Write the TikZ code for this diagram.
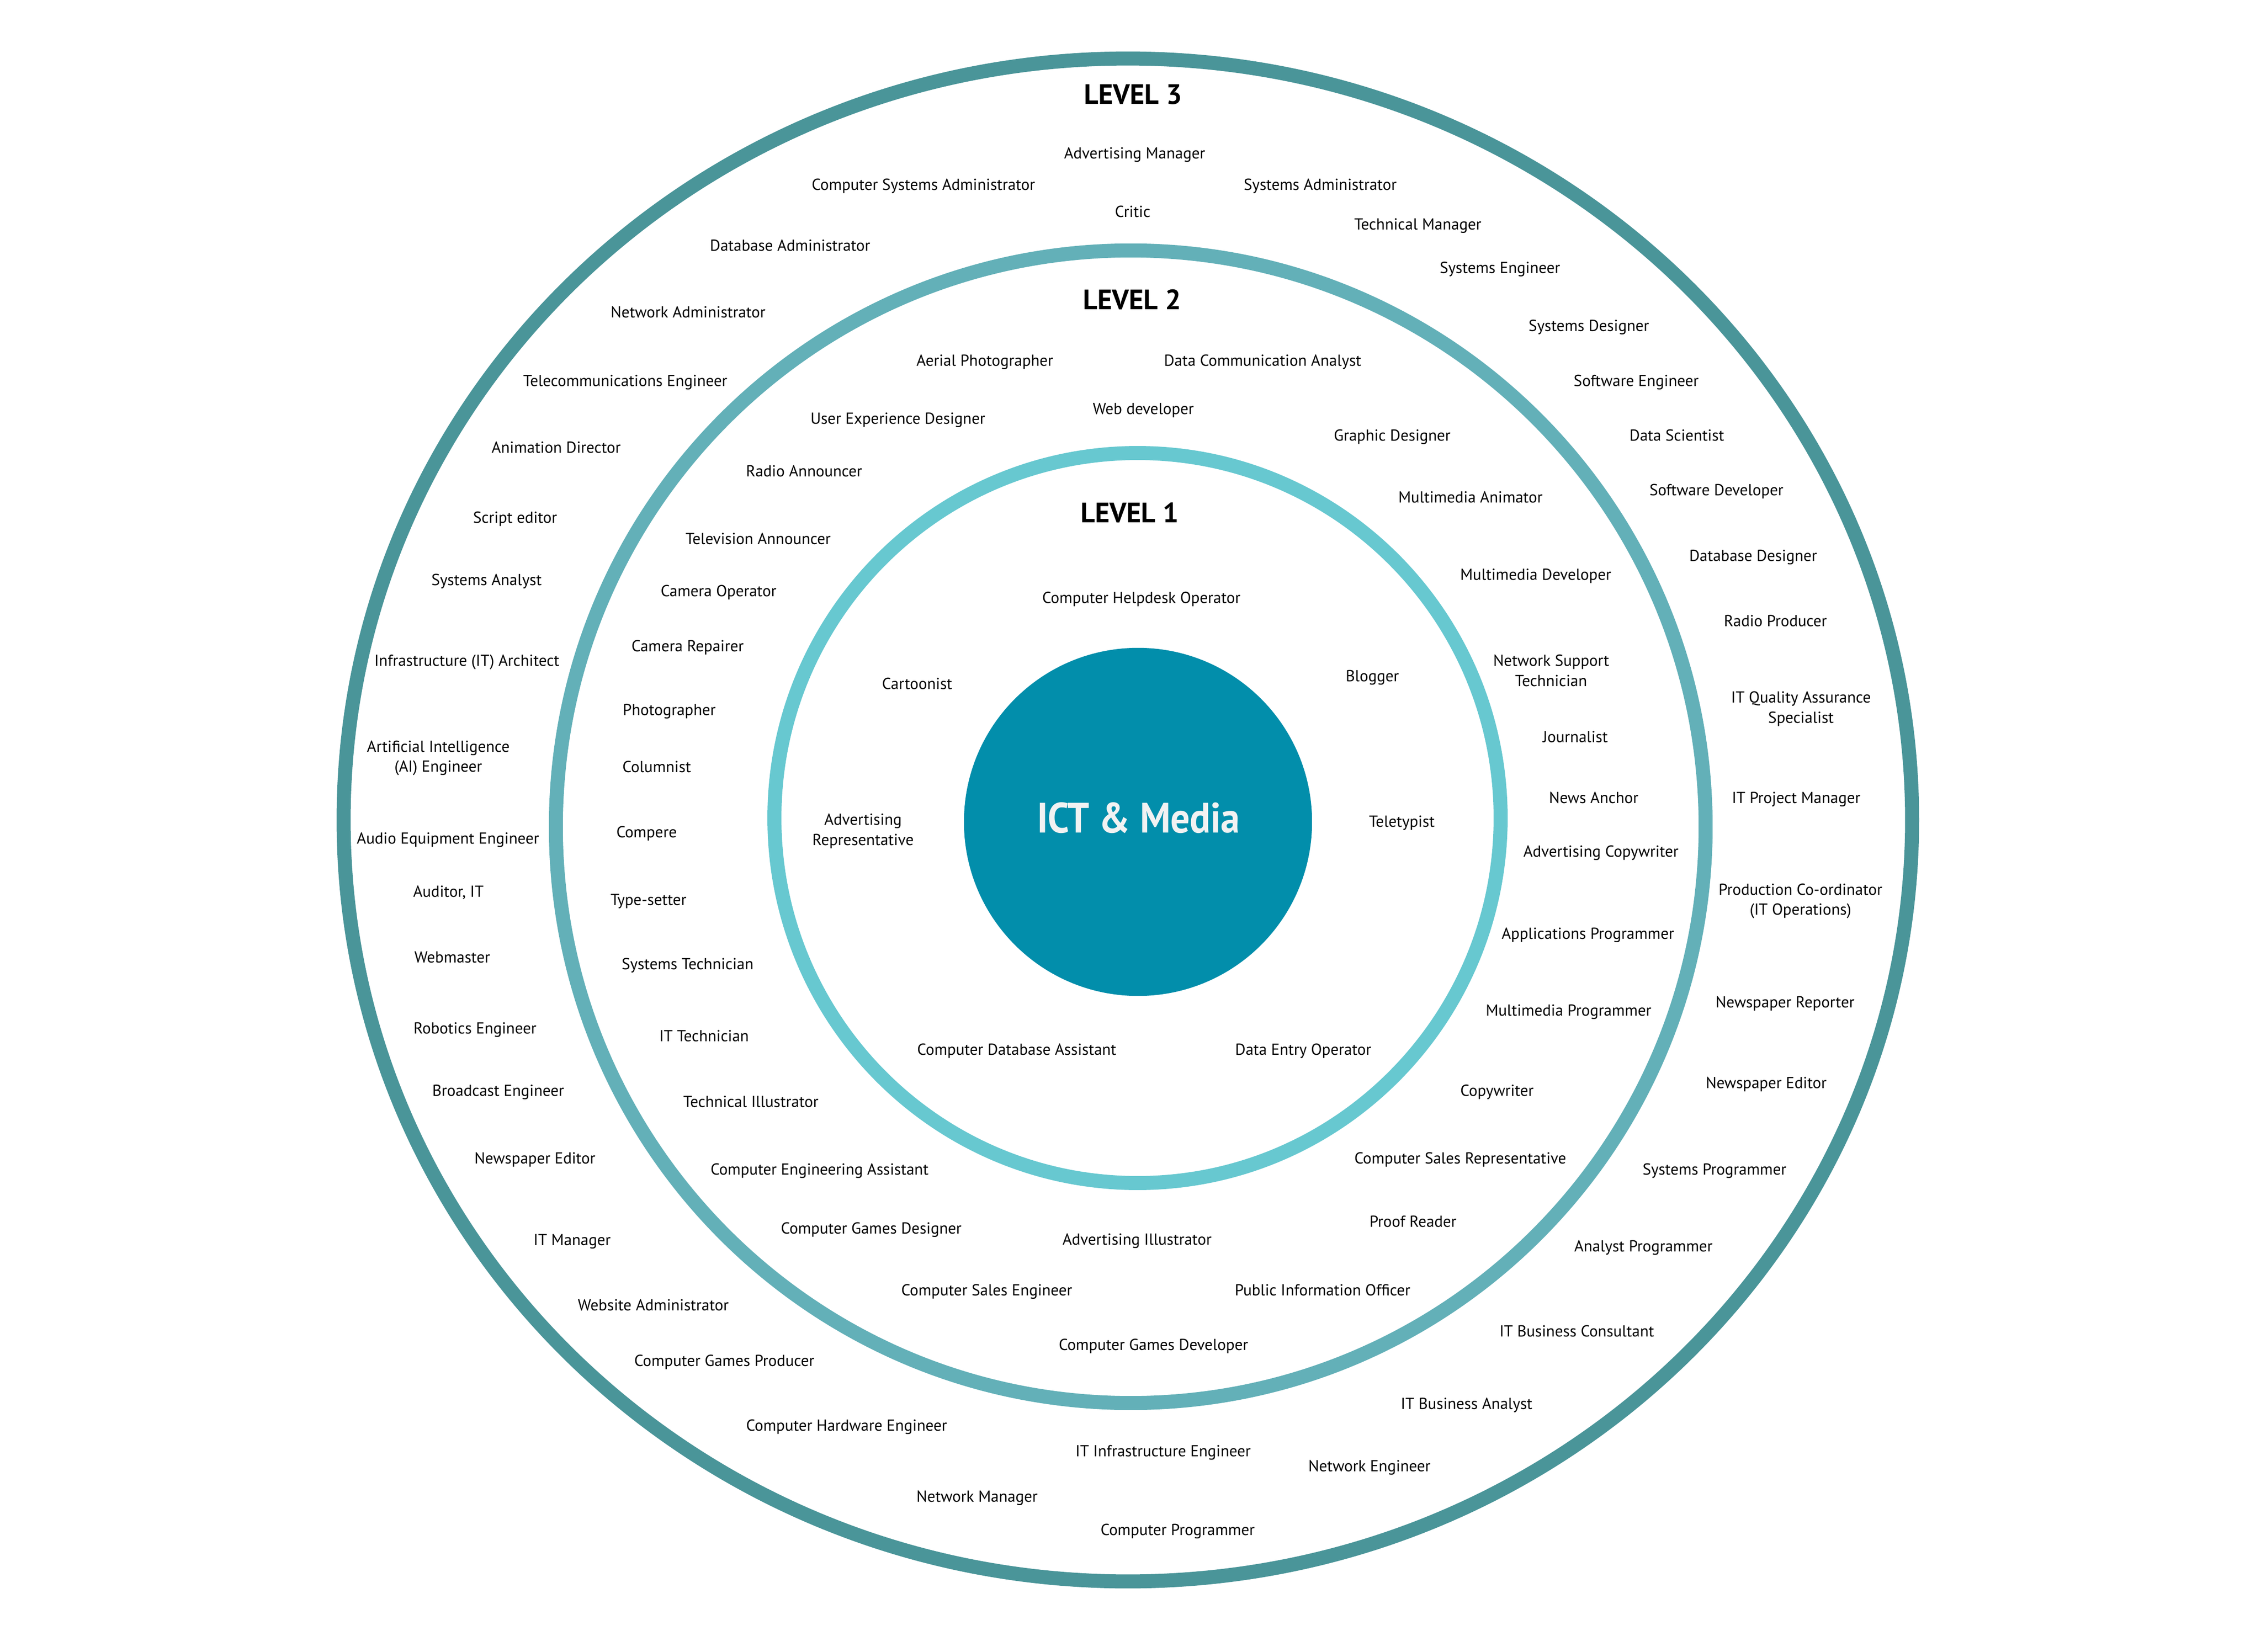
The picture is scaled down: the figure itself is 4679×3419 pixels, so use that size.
\documentclass[tikz,border=0pt]{standalone}
\usepackage{fontspec}
\setmainfont{PT Sans}
\definecolor{ringthree}{RGB}{74,149,153}
\definecolor{ringtwo}{RGB}{99,176,184}
\definecolor{ringone}{RGB}{103,200,208}
\definecolor{core}{RGB}{2,142,171}
\definecolor{coretext}{RGB}{242,242,242}
\tikzset{
  ring/.style={line width=0.29cm},
  lab/.style={inner sep=0pt, text height=6.6pt, text depth=0pt, font=\fontsize{9.4}{11.8}\selectfont, text=black},
  labtwo/.style={inner sep=0pt, align=center, font=\fontsize{9.4}{11.8}\selectfont, text=black},
  leveltitle/.style={inner sep=0pt, text height=11.4pt, text depth=0pt, font=\fontsize{16.5}{20}\selectfont\bfseries},
}
\begin{document}
\begin{tikzpicture}[x=0.01cm,y=-0.01cm]
\useasboundingbox (0,0) rectangle (4679,3419);
\fill[white] (0,0) rectangle (4679,3419);
% rings
\draw[ring, ringthree] (2334,1697) ellipse [x radius=16.22cm, y radius=15.75cm];
\draw[ring, ringtwo] (2340,1711) ellipse [x radius=11.89cm, y radius=11.92cm];
\draw[ring, ringone] (2354,1693) ellipse [x radius=7.51cm, y radius=7.55cm];
\node[circle, fill=core, minimum size=7.2cm, inner sep=0pt] (core) at (2355,1701) {};
\node[inner sep=0pt, text height=17.6pt, text depth=0pt, xscale=0.9, font=\fontsize{25}{30}\selectfont\bfseries, text=coretext] (ict) at (2356,1693) {ICT \& Media};
% titles
\node[leveltitle] (l3) at (2345,195) {LEVEL 3};
\node[leveltitle] (l2) at (2343,620) {LEVEL 2};
\node[leveltitle] (l1) at (2338,1061) {LEVEL 1};
% level 3
\node[lab] (a01) at (2348,317) {Advertising Manager};
\node[lab] (a02) at (1911,382) {Computer Systems Administrator};
\node[lab] (a03) at (2732,382) {Systems Administrator};
\node[lab] (a04) at (2344,438) {Critic};
\node[lab] (a05) at (2934,464) {Technical Manager};
\node[lab] (a06) at (1635,508) {Database Administrator};
\node[lab] (a07) at (3104,554) {Systems Engineer};
\node[lab] (a08) at (1424,646) {Network Administrator};
\node[lab] (a09) at (3288,674) {Systems Designer};
\node[lab] (a10) at (1294,788) {Telecommunications Engineer};
\node[lab] (a11) at (3386,788) {Software Engineer};
\node[lab] (a12) at (1151,926) {Animation Director};
\node[lab] (a13) at (3470,901) {Data Scientist};
\node[lab] (a14) at (1066,1071) {Script editor};
\node[lab] (a15) at (3552,1014) {Software Developer};
\node[lab] (a16) at (1007,1200) {Systems Analyst};
\node[lab] (a17) at (3628,1150) {Database Designer};
\node[lab] (a18) at (966,1367) {Infrastructure (IT) Architect};
\node[lab] (a19) at (3674,1285) {Radio Producer};
\node[labtwo] (a20) at (907,1569) {Artificial Intelligence\\(AI) Engineer};
\node[labtwo] (a21) at (3727,1467) {IT Quality Assurance\\Specialist};
\node[lab] (a22) at (927,1735) {Audio Equipment Engineer};
\node[lab] (a23) at (3717,1651) {IT Project Manager};
\node[lab] (a24) at (928,1845) {Auditor, IT};
\node[labtwo] (a25) at (3726,1865) {Production Co-ordinator\\(IT Operations)};
\node[lab] (a26) at (936,1981) {Webmaster};
\node[lab] (a27) at (3694,2074) {Newspaper Reporter};
\node[lab] (a28) at (983,2128) {Robotics Engineer};
\node[lab] (a29) at (3655,2241) {Newspaper Editor};
\node[lab] (a30) at (1031,2257) {Broadcast Engineer};
\node[lab] (a31) at (3548,2420) {Systems Programmer};
\node[lab] (a32) at (1107,2397) {Newspaper Editor};
\node[lab] (a33) at (3401,2579) {Analyst Programmer};
\node[lab] (a34) at (1184,2566) {IT Manager};
\node[lab] (a35) at (3263,2755) {IT Business Consultant};
\node[lab] (a36) at (1352,2701) {Website Administrator};
\node[lab] (a37) at (3035,2905) {IT Business Analyst};
\node[lab] (a38) at (1499,2816) {Computer Games Producer};
\node[lab] (a39) at (1752,2950) {Computer Hardware Engineer};
\node[lab] (a40) at (2407,3003) {IT Infrastructure Engineer};
\node[lab] (a41) at (2834,3034) {Network Engineer};
\node[lab] (a42) at (2022,3097) {Network Manager};
\node[lab] (a43) at (2437,3166) {Computer Programmer};
% level 2
\node[lab] (b01) at (2038,746) {Aerial Photographer};
\node[lab] (b02) at (2613,746) {Data Communication Analyst};
\node[lab] (b03) at (1858,866) {User Experience Designer};
\node[lab] (b04) at (2366,846) {Web developer};
\node[lab] (b05) at (2881,901) {Graphic Designer};
\node[lab] (b06) at (1664,975) {Radio Announcer};
\node[lab] (b07) at (3043,1029) {Multimedia Animator};
\node[lab] (b08) at (1569,1115) {Television Announcer};
\node[lab] (b09) at (1487,1223) {Camera Operator};
\node[lab] (b10) at (3178,1189) {Multimedia Developer};
\node[lab] (b11) at (1423,1337) {Camera Repairer};
\node[labtwo] (b12) at (3210,1388) {Network Support\\Technician};
\node[lab] (b13) at (1385,1469) {Photographer};
\node[lab] (b14) at (3260,1525) {Journalist};
\node[lab] (b15) at (1359,1587) {Columnist};
\node[lab] (b16) at (3298,1651) {News Anchor};
\node[lab] (b17) at (1338,1722) {Compere};
\node[lab] (b18) at (3313,1762) {Advertising Copywriter};
\node[lab] (b19) at (1342,1862) {Type-setter};
\node[lab] (b20) at (3286,1932) {Applications Programmer};
\node[lab] (b21) at (1423,1995) {Systems Technician};
\node[lab] (b22) at (3246,2091) {Multimedia Programmer};
\node[lab] (b23) at (1457,2144) {IT Technician};
\node[lab] (b24) at (3098,2257) {Copywriter};
\node[lab] (b25) at (1554,2280) {Technical Illustrator};
\node[lab] (b26) at (3022,2397) {Computer Sales Representative};
\node[lab] (b27) at (1696,2420) {Computer Engineering Assistant};
\node[lab] (b28) at (2924,2528) {Proof Reader};
\node[lab] (b29) at (1803,2542) {Computer Games Designer};
\node[lab] (b30) at (2353,2565) {Advertising Illustrator};
\node[lab] (b31) at (2042,2670) {Computer Sales Engineer};
\node[lab] (b32) at (2737,2670) {Public Information Officer};
\node[lab] (b33) at (2387,2783) {Computer Games Developer};
% level 1
\node[lab] (c01) at (2362,1237) {Computer Helpdesk Operator};
\node[lab] (c02) at (1898,1415) {Cartoonist};
\node[lab] (c03) at (2840,1399) {Blogger};
\node[labtwo] (c04) at (1786,1720) {Advertising\\Representative};
\node[lab] (c05) at (2901,1700) {Teletypist};
\node[lab] (c06) at (2104,2172) {Computer Database Assistant};
\node[lab] (c07) at (2697,2172) {Data Entry Operator};
\end{tikzpicture}
\end{document}
